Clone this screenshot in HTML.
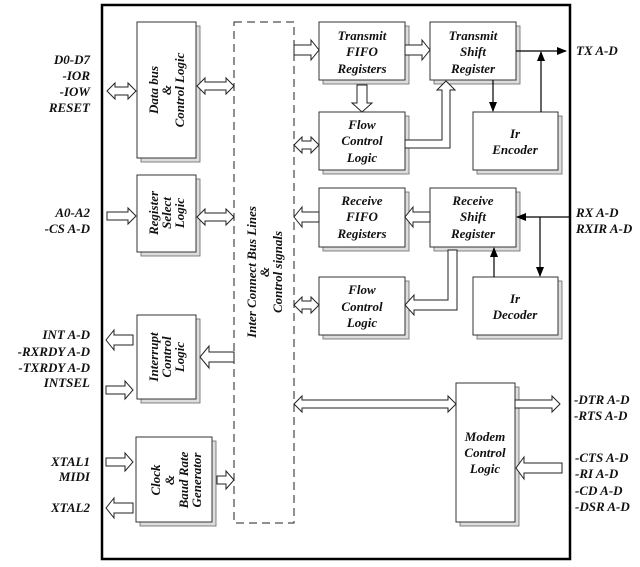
<!DOCTYPE html>
<html><head><style>
html,body{margin:0;padding:0;background:#fff;}
svg{display:block;}
text{font-family:"Liberation Serif",serif;font-weight:bold;font-style:italic;font-size:13px;fill:#111;}
.b{fill:#fff;stroke:#333;stroke-width:1;}
.s{fill:#ddd;stroke:#666;stroke-width:0.8;}
.h{fill:#fff;stroke:#222;stroke-width:1;}
.l{stroke:#000;stroke-width:1.2;fill:none;}
</style></head><body>
<svg width="640" height="567" viewBox="0 0 640 567" xmlns="http://www.w3.org/2000/svg">
<defs>
<marker id="ar" markerWidth="10" markerHeight="10" refX="9" refY="5" orient="auto" markerUnits="userSpaceOnUse"><path d="M0,1 L10,5 L0,9 z" fill="#000"/></marker>
</defs>
<rect x="102" y="5" width="468" height="554" fill="none" stroke="#000" stroke-width="2.5"/>
<rect x="234" y="22" width="60" height="501" fill="none" stroke="#222" stroke-width="1" stroke-dasharray="8,5"/>

<g>
<rect class="s" x="141" y="26" width="59" height="136"/><rect class="b" x="137" y="22" width="59" height="136"/>
<rect class="s" x="141" y="179" width="59" height="77"/><rect class="b" x="137" y="175" width="59" height="77"/>
<rect class="s" x="141" y="319" width="59" height="84"/><rect class="b" x="137" y="315" width="59" height="84"/>
<rect class="s" x="140" y="441" width="76" height="85"/><rect class="b" x="136" y="437" width="76" height="85"/>
<rect class="s" x="323" y="26" width="86" height="58"/><rect class="b" x="319" y="22" width="86" height="58"/>
<rect class="s" x="434" y="26" width="86" height="58"/><rect class="b" x="430" y="22" width="86" height="58"/>
<rect class="s" x="323" y="116" width="86" height="58"/><rect class="b" x="319" y="112" width="86" height="58"/>
<rect class="s" x="477" y="116" width="85" height="58"/><rect class="b" x="473" y="112" width="85" height="58"/>
<rect class="s" x="323" y="192" width="86" height="59"/><rect class="b" x="319" y="188" width="86" height="59"/>
<rect class="s" x="434" y="192" width="86" height="59"/><rect class="b" x="430" y="188" width="86" height="59"/>
<rect class="s" x="323" y="281" width="86" height="58"/><rect class="b" x="319" y="277" width="86" height="58"/>
<rect class="s" x="477" y="281" width="85" height="58"/><rect class="b" x="473" y="277" width="85" height="58"/>
<rect class="s" x="460" y="387" width="59" height="139"/><rect class="b" x="456" y="383" width="59" height="139"/>
</g>

<g class="h">
<path class="h" d="M107,91 l8,-8 v4 h13 v-4 l8,8 l-8,8 v-4 h-13 v4 z"/>
<path class="h" d="M197,86 l8,-8 v4 h21 v-4 l8,8 l-8,8 v-4 h-21 v4 z"/>
<path class="h" d="M197,217 l8,-8 v4 h21 v-4 l8,8 l-8,8 v-4 h-21 v4 z"/>
<path class="h" d="M294,145 l8,-8 v4 h9 v-4 l8,8 l-8,8 v-4 h-9 v4 z"/>
<path class="h" d="M294,305 l8,-8 v4 h9 v-4 l8,8 l-8,8 v-4 h-9 v4 z"/>
<path class="h" d="M294,404 l8,-8 v4 h146 v-4 l8,8 l-8,8 v-4 h-146 v4 z"/>
<path class="h" d="M515,400 h37 v-4 l8,8 l-8,8 v-4 h-37 z"/>
<path class="h" d="M107,212 h21 v-4 l8,8 l-8,8 v-4 h-21 z"/>
<path class="h" d="M106,386 h19 v-5 l8,9 l-8,9 v-5 h-19 z"/>
<path class="h" d="M106,458 h19 v-5 l8,9 l-8,9 v-5 h-19 z"/>
<path class="h" d="M217,476 h9 v-5 l8,9 l-8,9 v-5 h-9 z"/>
<path class="h" d="M294,45 h17 v-5 l8,10 l-8,10 v-5 h-17 z"/>
<path class="h" d="M405,45 h17 v-5 l8,10 l-8,10 v-5 h-17 z"/>
<path class="h" d="M133,335 h-19 v-5 l-8,10 l8,10 v-5 h19 z"/>
<path class="h" d="M133,503 h-19 v-5 l-8,10 l8,10 v-5 h19 z"/>
<path class="h" d="M234,352 h-25 v-6 l-9,11 l9,11 v-6 h25 z"/>
<path class="h" d="M319,212 h-17 v-5 l-8,10 l8,10 v-5 h17 z"/>
<path class="h" d="M430,212 h-17 v-5 l-8,10 l8,10 v-5 h17 z"/>
<path class="h" d="M562,463 h-38 v-6 l-8,11 l8,11 v-6 h38 z"/>
<path class="h" d="M357,85 h10 v18 h5 l-10,9 l-10,-9 h5 z"/>
<path class="h" d="M405,140 h37 v-50 h-5 l9,-9 l9,9 h-5 v58 h-45 z"/>
<path class="h" d="M448,250 h9 v60 h-43 v5 l-9,-10 l9,-10 v5 h34 z"/>
</g>

<line class="l" x1="516" y1="51" x2="566" y2="51" marker-end="url(#ar)"/>
<line class="l" x1="541" y1="112" x2="541" y2="52" marker-end="url(#ar)"/>
<line class="l" x1="493" y1="80" x2="493" y2="111" marker-end="url(#ar)"/>
<line class="l" x1="570" y1="217" x2="517" y2="217" marker-end="url(#ar)"/>
<line class="l" x1="540" y1="217" x2="540" y2="276" marker-end="url(#ar)"/>
<line class="l" x1="494" y1="277" x2="494" y2="248" marker-end="url(#ar)"/>

<g text-anchor="middle">
<text x="362" y="40">Transmit</text><text x="362" y="56">FIFO</text><text x="362" y="73">Registers</text>
<text x="473" y="40">Transmit</text><text x="473" y="56">Shift</text><text x="473" y="73">Register</text>
<text x="362" y="129">Flow</text><text x="362" y="145">Control</text><text x="362" y="162">Logic</text>
<text x="515" y="138">Ir</text><text x="515" y="154">Encoder</text>
<text x="362" y="205">Receive</text><text x="362" y="221">FIFO</text><text x="362" y="238">Registers</text>
<text x="473" y="205">Receive</text><text x="473" y="221">Shift</text><text x="473" y="238">Register</text>
<text x="362" y="294">Flow</text><text x="362" y="311">Control</text><text x="362" y="327">Logic</text>
<text x="515" y="303">Ir</text><text x="515" y="319">Decoder</text>
<text x="485" y="441">Modem</text><text x="485" y="457">Control</text><text x="485" y="473">Logic</text>
<g transform="translate(166,90) rotate(-90)"><text x="0" y="-8">Data bus</text><text x="0" y="5">&amp;</text><text x="0" y="18">Control Logic</text></g>
<g transform="translate(166,213) rotate(-90)"><text x="0" y="-8">Register</text><text x="0" y="5">Select</text><text x="0" y="18">Logic</text></g>
<g transform="translate(166,357) rotate(-90)"><text x="0" y="-8">Interrupt</text><text x="0" y="5">Control</text><text x="0" y="18">Logic</text></g>
<g transform="translate(174,480) rotate(-90)"><text x="0" y="-14">Clock</text><text x="0" y="0">&amp;</text><text x="0" y="14">Baud Rate</text><text x="0" y="27">Generator</text></g>
<g transform="translate(264,272) rotate(-90)"><text x="0" y="-8">Inter Connect Bus Lines</text><text x="0" y="5">&amp;</text><text x="0" y="18">Control signals</text></g>
</g>

<g text-anchor="end">
<text x="90" y="64">D0-D7</text><text x="90" y="80">-IOR</text><text x="90" y="96">-IOW</text><text x="90" y="112">RESET</text>
<text x="90" y="217">A0-A2</text><text x="90" y="233">-CS A-D</text>
<text x="90" y="339">INT A-D</text><text x="90" y="356">-RXRDY A-D</text><text x="90" y="372">-TXRDY A-D</text><text x="90" y="387">INTSEL</text>
<text x="90" y="466">XTAL1</text><text x="90" y="481">MIDI</text><text x="90" y="512">XTAL2</text>
</g>
<g>
<text x="576" y="55">TX A-D</text>
<text x="576" y="217">RX A-D</text><text x="576" y="233">RXIR A-D</text>
<text x="574" y="404">-DTR A-D</text><text x="574" y="420">-RTS A-D</text>
<text x="575" y="462">-CTS A-D</text><text x="575" y="478">-RI A-D</text><text x="575" y="495">-CD A-D</text><text x="575" y="511">-DSR A-D</text>
</g>
</svg>
</body></html>
